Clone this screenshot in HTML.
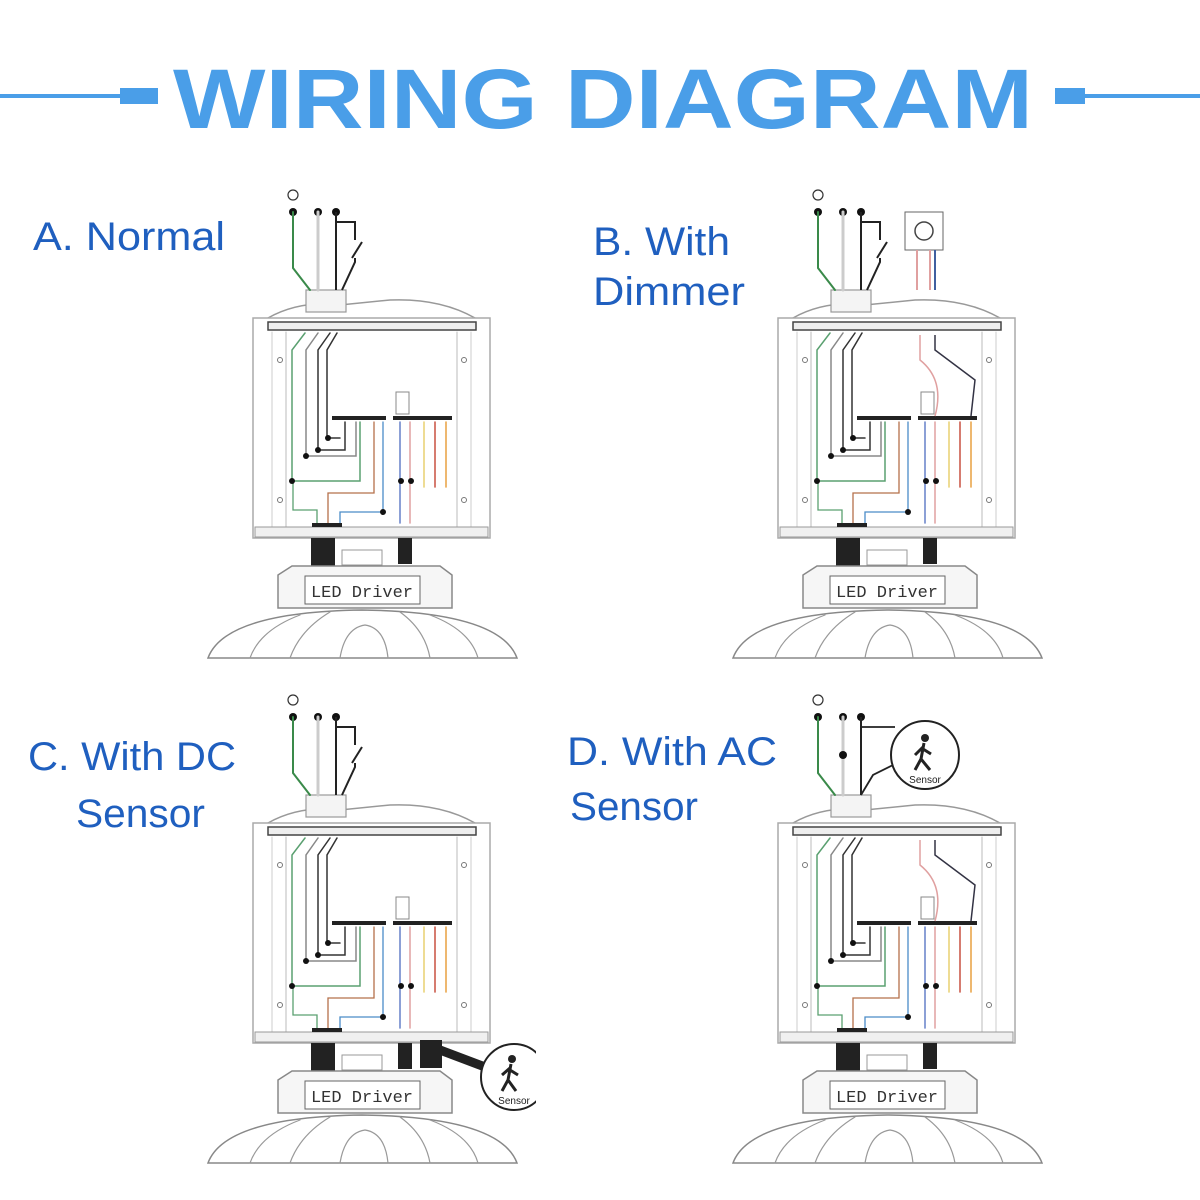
<!DOCTYPE html>
<html><head><meta charset="utf-8"><style>
html,body{margin:0;padding:0;background:#fff;}
svg{display:block;}
.lab{font-family:"Liberation Sans",sans-serif;fill:#1f5fbf;font-size:40px;}
.drv{font-family:"Liberation Mono",monospace;font-size:17px;fill:#333;}
</style></head><body>
<svg width="1200" height="1200" viewBox="0 0 1200 1200" xmlns="http://www.w3.org/2000/svg">
<defs>
<g id="unit" fill="none" stroke-linecap="round">
  <path d="M268 318 Q300 300 340 305 L390 300 Q440 298 475 318" stroke="#999" stroke-width="1.5"/>
  <rect x="306" y="290" width="40" height="22" stroke="#999" stroke-width="1.2" fill="#f4f4f4"/>
  <rect x="253" y="318" width="237" height="220" stroke="#aaa" stroke-width="1.5" fill="#fff"/>
  <rect x="268" y="322" width="208" height="8" stroke="#444" stroke-width="1.5" fill="#eee"/>
  <line x1="286" y1="332" x2="286" y2="527" stroke="#bbb"/>
  <line x1="457" y1="332" x2="457" y2="527" stroke="#bbb"/>
  <line x1="272" y1="332" x2="272" y2="527" stroke="#ccc"/>
  <line x1="471" y1="332" x2="471" y2="527" stroke="#ccc"/>
  <rect x="255" y="527" width="233" height="10" stroke="#999" fill="#f0f0f0"/>
  <circle cx="280" cy="360" r="2.5" stroke="#777"/>
  <circle cx="464" cy="360" r="2.5" stroke="#777"/>
  <circle cx="280" cy="500" r="2.5" stroke="#777"/>
  <circle cx="464" cy="500" r="2.5" stroke="#777"/>
  <path d="M305 333 L292 350 L292 481 L360 481 L360 422" stroke="#5aa070" stroke-width="1.5"/>
  <path d="M318 333 L306 350 L306 456 L356 456 L356 422" stroke="#888" stroke-width="1.5"/>
  <path d="M330 333 L318 350 L318 450 L345 450 L345 422" stroke="#333" stroke-width="1.5"/>
  <path d="M337 333 L327 350 L327 438 L340 438" stroke="#333" stroke-width="1.5"/>
  <path d="M293 480 L293 510 L317 510 L317 523" stroke="#5aa070" stroke-width="1.3"/>
  <path d="M374 422 L374 493 L328 493 L328 523" stroke="#b5704a" stroke-width="1.3"/>
  <path d="M383 422 L383 512 L340 512 L340 523" stroke="#4a8cc8" stroke-width="1.3"/>
  <path d="M400 422 L400 523" stroke="#6680c8" stroke-width="1.5"/>
  <path d="M410 422 L410 523" stroke="#e0a0a0" stroke-width="1.5"/>
  <path d="M424 422 L424 487" stroke="#e8d070" stroke-width="1.5"/>
  <path d="M435 422 L435 487" stroke="#c85040" stroke-width="1.5"/>
  <path d="M446 422 L446 487" stroke="#e8a040" stroke-width="1.5"/>
  <rect x="332" y="416" width="54" height="4" fill="#222" stroke="none"/>
  <rect x="393" y="416" width="59" height="4" fill="#222" stroke="none"/>
  <rect x="396" y="392" width="13" height="22" stroke="#888" fill="#fff"/>
  <rect x="312" y="523" width="30" height="4" fill="#222" stroke="none"/>
  <g fill="#111" stroke="none">
   <circle cx="292" cy="481" r="3"/><circle cx="306" cy="456" r="3"/><circle cx="318" cy="450" r="3"/><circle cx="328" cy="438" r="3"/><circle cx="383" cy="512" r="3"/><circle cx="401" cy="481" r="3"/><circle cx="411" cy="481" r="3"/>
  </g>
  <rect x="311" y="538" width="24" height="28" fill="#222" stroke="none"/>
  <rect x="398" y="538" width="14" height="26" fill="#222" stroke="none"/>
  <rect x="342" y="550" width="40" height="15" stroke="#999" fill="#fff"/>
  <path d="M278 575 L292 566 L440 566 L452 575 L452 608 L278 608 Z" stroke="#888" stroke-width="1.5" fill="#f6f6f6"/>
  <rect x="305" y="576" width="115" height="28" stroke="#666" fill="#fff"/>
  <path d="M208 658 Q225 612 362 610 Q500 612 517 658 Z" stroke="#888" stroke-width="1.5" fill="#fff"/>
  <path d="M250 658 Q260 630 300 615 M290 658 Q300 630 330 612 M340 658 Q345 628 365 625 Q385 628 388 658 M430 658 Q425 630 400 612 M478 658 Q470 630 430 615" stroke="#999" stroke-width="1.2"/>
  <circle cx="293" cy="212" r="4" fill="#111" stroke="none"/>
  <circle cx="318" cy="212" r="4" fill="#111" stroke="none"/>
  <circle cx="336" cy="212" r="4" fill="#111" stroke="none"/>
  <path d="M293 212 L293 268 L310 290" stroke="#3a8a4a" stroke-width="2"/>
  <path d="M318 212 L318 290" stroke="#ccc" stroke-width="3"/>
  <circle cx="293" cy="195" r="5" stroke="#333" stroke-width="1.2"/>
</g>
<g id="sw" fill="none" stroke="#222" stroke-width="2">
  <path d="M336 212 L336 290"/>
  <path d="M336 222 L355 222 L355 240 M352 258 L362 242 M355 258 L355 262 L342 290"/>
</g>
</defs>

<rect x="0" y="94" width="120" height="4" fill="#4a9ee8"/>
<rect x="120" y="88" width="38" height="16" fill="#4a9ee8"/>
<rect x="1055" y="88" width="30" height="16" fill="#4a9ee8"/>
<rect x="1085" y="94" width="115" height="4" fill="#4a9ee8"/>
<text x="603" y="128" text-anchor="middle" font-family="Liberation Sans,sans-serif" font-weight="bold" font-size="84" fill="#4a9ee8" textLength="860" lengthAdjust="spacingAndGlyphs">WIRING DIAGRAM</text>

<use href="#unit"/><use href="#sw"/>
<text class="drv" x="362" y="597" text-anchor="middle">LED Driver</text>
<text class="lab" x="33" y="250" textLength="192" lengthAdjust="spacingAndGlyphs">A. Normal</text>

<g transform="translate(525,0)">
<use href="#unit"/><use href="#sw"/>
<text class="drv" x="362" y="597" text-anchor="middle">LED Driver</text>
<rect x="380" y="212" width="38" height="38" fill="#fff" stroke="#666"/>
<circle cx="399" cy="231" r="9" fill="none" stroke="#444" stroke-width="1.5"/>
<path d="M392 250 L392 290 M405 250 L405 290" stroke="#e0a0a0" stroke-width="2"/>
<path d="M410 250 L410 290" stroke="#4060a0" stroke-width="2"/>
<path d="M395 335 L395 360 Q420 380 410 416" stroke="#e0a0a0" fill="none" stroke-width="1.5"/>
<path d="M410 335 L410 350 L450 380 L446 416" stroke="#334" fill="none" stroke-width="1.5"/>
</g>
<text class="lab" x="593" y="255" textLength="137" lengthAdjust="spacingAndGlyphs">B. With</text>
<text class="lab" x="593" y="305" textLength="152" lengthAdjust="spacingAndGlyphs">Dimmer</text>

<g transform="translate(0,505)">
<use href="#unit"/><use href="#sw"/>
<text class="drv" x="362" y="597" text-anchor="middle">LED Driver</text>
<rect x="420" y="535" width="22" height="28" fill="#222"/>
<path d="M440 545 L485 562" stroke="#222" stroke-width="9"/>
<circle cx="514" cy="572" r="33" fill="#fff" stroke="#222" stroke-width="2"/>
<rect x="536" y="530" width="20" height="90" fill="#fff"/>
<circle cx="512" cy="554" r="4" fill="#222"/>
<path d="M511 559 L508 575 L502 586 M508 575 L516 586 M510 565 L518 570 M510 563 L502 570" stroke="#222" stroke-width="3" fill="none"/>
<text x="514" y="599" text-anchor="middle" font-family="Liberation Sans,sans-serif" font-size="10" fill="#222">Sensor</text>
</g>
<text class="lab" x="28" y="770" textLength="208" lengthAdjust="spacingAndGlyphs">C. With DC</text>
<text class="lab" x="76" y="827" textLength="129" lengthAdjust="spacingAndGlyphs">Sensor</text>

<g transform="translate(525,505)">
<use href="#unit"/>
<text class="drv" x="362" y="597" text-anchor="middle">LED Driver</text>
<path d="M336 212 L336 290" stroke="#222" stroke-width="2"/>
<path d="M336 222 L370 222 M336 290 L348 270 L372 258" stroke="#222" stroke-width="1.8" fill="none"/>
<circle cx="318" cy="250" r="4" fill="#111"/>
<circle cx="400" cy="250" r="34" fill="#fff" stroke="#222" stroke-width="2"/>
<circle cx="400" cy="233" r="4" fill="#222"/>
<path d="M399 238 L396 254 L390 265 M396 254 L405 265 M398 244 L406 249 M398 242 L390 250" stroke="#222" stroke-width="3" fill="none"/>
<text x="400" y="278" text-anchor="middle" font-family="Liberation Sans,sans-serif" font-size="10" fill="#222">Sensor</text>
<path d="M395 335 L395 360 Q420 380 410 416" stroke="#e0a0a0" fill="none" stroke-width="1.5"/>
<path d="M410 335 L410 350 L450 380 L446 416" stroke="#334" fill="none" stroke-width="1.5"/>
</g>
<text class="lab" x="567" y="765" textLength="210" lengthAdjust="spacingAndGlyphs">D. With AC</text>
<text class="lab" x="570" y="820" textLength="128" lengthAdjust="spacingAndGlyphs">Sensor</text>
</svg>
</body></html>
